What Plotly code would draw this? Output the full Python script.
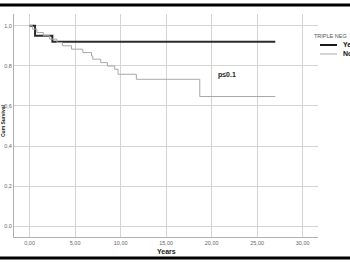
import plotly.graph_objects as go

# Kaplan-Meier step data (years, cumulative survival)
yes_t = [0, 0.6, 2.5, 27]
yes_s = [1.0, 0.95, 0.92, 0.92]

no_t = [0, 0.3, 0.8, 1.5, 2.2, 3.0, 3.6, 4.6, 5.85, 6.8, 6.94, 7.82, 8.55, 9.35, 9.72, 11.73, 18.7, 27]
no_s = [1.0, 0.983, 0.966, 0.95, 0.933, 0.916, 0.9, 0.883, 0.866, 0.849, 0.833, 0.816, 0.799,
        0.783, 0.758, 0.733, 0.647, 0.647]

x_ticks = [0, 5, 10, 15, 20, 25, 30]
y_ticks = [0.0, 0.2, 0.4, 0.6, 0.8, 1.0]

legend_title = "TRIPLE NEG"
legend_names = ["Yes", "No"]
legend_colors = ["#1a1a1a", "#a8a8a8"]
legend_widths = [2, 1]

FONT = "Arial, Liberation Sans, sans-serif"
W, H = 350, 263
ML, MR, MT, MB = 14, 32, 14, 26
PW, PH = W - ML - MR, H - MT - MB

fig = go.Figure()
fig.add_trace(go.Scatter(x=yes_t, y=yes_s, mode="lines", line_shape="hv",
                         line=dict(color="#2b2b2b", width=2), name="Yes"))
fig.add_trace(go.Scatter(x=no_t, y=no_s, mode="lines", line_shape="hv",
                         line=dict(color="#a8a8a8", width=1), name="No"))


def px2paper_x(px):
    return (px - ML) / PW


def px2paper_y(py):
    return (H - MB - py) / PH


fig.add_annotation(x=20.5, y=0.755, xref="x", yref="y", text="<b>p≤0.1</b>", showarrow=False,
                   xanchor="left", yanchor="middle", font=dict(size=7, color="#222", family=FONT))
fig.add_annotation(x=px2paper_x(166), y=px2paper_y(251), xref="paper", yref="paper", text="<b>Years</b>",
                   showarrow=False, xanchor="center", yanchor="middle",
                   font=dict(size=7, color="#222", family=FONT))
fig.add_annotation(x=px2paper_x(3), y=px2paper_y(121), xref="paper", yref="paper", text="<b>Cum Survival</b>",
                   showarrow=False, textangle=-90, xanchor="center", yanchor="middle",
                   font=dict(size=5, color="#222", family=FONT))

# legend (drawn manually to match compact SPSS style)
fig.add_annotation(x=px2paper_x(312), y=px2paper_y(36), xref="paper", yref="paper", text=legend_title,
                   showarrow=False, xanchor="left", yanchor="middle",
                   font=dict(size=5.5, color="#555", family=FONT))
for i, (nm, col, lw) in enumerate(zip(legend_names, legend_colors, legend_widths)):
    ypx = 45 + 9 * i
    fig.add_shape(type="line", xref="paper", yref="paper",
                  x0=px2paper_x(320), x1=px2paper_x(337), y0=px2paper_y(ypx), y1=px2paper_y(ypx),
                  line=dict(color=col, width=lw))
    fig.add_annotation(x=px2paper_x(341), y=px2paper_y(ypx), xref="paper", yref="paper",
                       text="<b>" + nm + "</b>", showarrow=False, xanchor="left", yanchor="middle",
                       font=dict(size=7, color="#111", family=FONT))

# top and bottom frame bars
for py in (5, 258):
    fig.add_shape(type="line", xref="paper", yref="paper",
                  x0=px2paper_x(0), x1=px2paper_x(W), y0=px2paper_y(py), y1=px2paper_y(py),
                  line=dict(color="black", width=3))

fig.update_layout(
    width=W, height=H,
    margin=dict(l=ML, r=MR, t=MT, b=MB, autoexpand=False),
    paper_bgcolor="white", plot_bgcolor="white",
    separators=", ",
    font=dict(family=FONT, size=6, color="#555"),
    showlegend=False,
    xaxis=dict(range=[-1.714, 31.69], tickvals=x_ticks, tickformat=".2f",
               showgrid=True, gridcolor="#d4d4d4", gridwidth=1, zeroline=False,
               showline=True, linecolor="#b0b0b0", linewidth=1, ticks="",
               tickfont=dict(size=5.5, color="#666")),
    yaxis=dict(range=[-0.0527, 1.0582], tickvals=y_ticks, tickformat=".1f",
               showgrid=True, gridcolor="#d4d4d4", gridwidth=1, zeroline=False,
               showline=True, linecolor="#b0b0b0", linewidth=1, ticks="",
               tickfont=dict(size=5.5, color="#666")),
)

fig.write_html("out.html")
